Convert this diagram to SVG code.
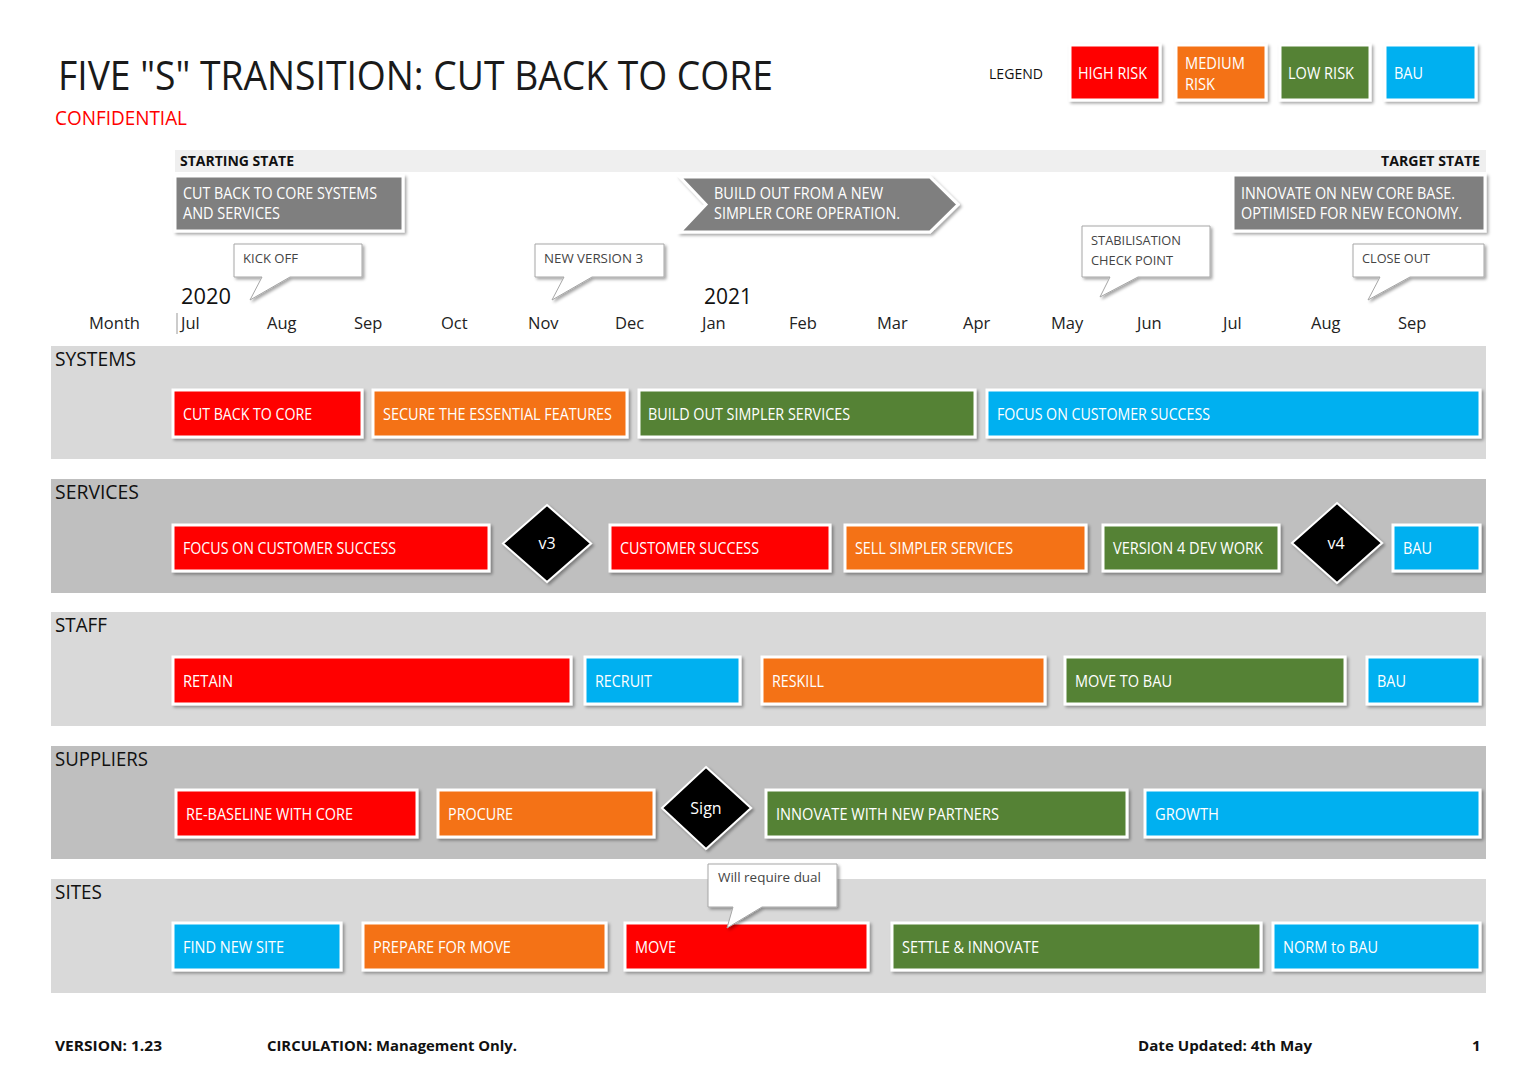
<svg xmlns="http://www.w3.org/2000/svg" width="1536" height="1069" viewBox="0 0 1536 1069">
<defs>
<filter id="sh" x="-10%" y="-20%" width="130%" height="150%">
<feDropShadow dx="2" dy="2" stdDeviation="1.5" flood-color="#000" flood-opacity="0.35"/>
</filter>
<style>
text{font-family:"Open Sans","Noto Sans","Liberation Sans",sans-serif}
.bar{stroke:#fff;stroke-width:3;filter:url(#sh)}
.r{fill:#ff0000}.o{fill:#f47216}.g{fill:#548235}.b{fill:#00b0f0}.p{fill:#7f7f7f}
.bt{fill:#fff;font-size:16px}
.lane1{fill:#d9d9d9}.lane2{fill:#bfbfbf}
.ll{fill:#111;font-size:20px}
.mo{fill:#222;font-size:16.5px}
.yr{fill:#111;font-size:22px}
.co{fill:#fff;stroke:#a6a6a6;stroke-width:1;filter:url(#sh)}
.ct{fill:#444;font-size:13px}
.dia{fill:#000;stroke:#fff;stroke-width:2;filter:url(#sh)}
.dt{fill:#fff;font-size:16px;text-anchor:middle}
.hd{fill:#111;font-size:14px;font-weight:bold}
.ft{fill:#111;font-size:15px;font-weight:bold}
</style>
</defs>
<rect width="1536" height="1069" fill="#fff"/>

<g id="title">
<text x="58" y="90" font-size="40" fill="#1a1a1a" textLength="715" lengthAdjust="spacingAndGlyphs">FIVE "S" TRANSITION: CUT BACK TO CORE</text>
<text x="55" y="125" font-size="20" fill="#ff0000" textLength="132" lengthAdjust="spacingAndGlyphs">CONFIDENTIAL</text>
</g>

<g id="legend">
<text x="989" y="79" font-size="15" fill="#111" textLength="54" lengthAdjust="spacingAndGlyphs">LEGEND</text>
<rect class="bar r" x="1070" y="45" width="90" height="55"/>
<text class="bt" x="1078" y="79" textLength="69" lengthAdjust="spacingAndGlyphs">HIGH RISK</text>
<rect class="bar o" x="1176" y="45" width="90" height="55"/>
<text class="bt" x="1185" y="69" textLength="60" lengthAdjust="spacingAndGlyphs">MEDIUM</text>
<text class="bt" x="1185" y="90" textLength="30" lengthAdjust="spacingAndGlyphs">RISK</text>
<rect class="bar g" x="1280" y="45" width="90" height="55"/>
<text class="bt" x="1288" y="79" textLength="66" lengthAdjust="spacingAndGlyphs">LOW RISK</text>
<rect class="bar b" x="1385" y="45" width="91" height="55"/>
<text class="bt" x="1394" y="79" textLength="29" lengthAdjust="spacingAndGlyphs">BAU</text>
</g>

<g id="header">
<rect x="175" y="150" width="1311" height="22" fill="#efefef"/>
<text class="hd" x="180" y="166" textLength="114" lengthAdjust="spacingAndGlyphs">STARTING STATE</text>
<text class="hd" x="1381" y="166" textLength="99" lengthAdjust="spacingAndGlyphs">TARGET STATE</text>
</g>

<g id="phase-start">
<rect class="bar p" x="175" y="176" width="228" height="55"/>
<text class="bt" x="183" y="199" textLength="194" lengthAdjust="spacingAndGlyphs">CUT BACK TO CORE SYSTEMS</text>
<text class="bt" x="183" y="219" textLength="97" lengthAdjust="spacingAndGlyphs">AND SERVICES</text>
</g>
<g id="phase-build">
<polygon class="bar p" points="680,177 930,177 958,204.5 930,232 680,232 706,204.5"/>
<text class="bt" x="714" y="199" textLength="169" lengthAdjust="spacingAndGlyphs">BUILD OUT FROM A NEW</text>
<text class="bt" x="714" y="219" textLength="186" lengthAdjust="spacingAndGlyphs">SIMPLER CORE OPERATION.</text>
</g>
<g id="phase-target">
<rect class="bar p" x="1233" y="175" width="252" height="56"/>
<text class="bt" x="1241" y="199" textLength="214" lengthAdjust="spacingAndGlyphs">INNOVATE ON NEW CORE BASE.</text>
<text class="bt" x="1241" y="219" textLength="221" lengthAdjust="spacingAndGlyphs">OPTIMISED FOR NEW ECONOMY.</text>
</g>

<g id="callout-kickoff">
<path class="co" d="M234,244 H362 V277 H290 L250,300 L262,277 H234 Z"/>
<text class="ct" x="243" y="263" textLength="55" lengthAdjust="spacingAndGlyphs">KICK OFF</text>
</g>
<g id="callout-v3">
<path class="co" d="M535,244 H664 V277 H592 L552,300 L564,277 H535 Z"/>
<text class="ct" x="544" y="263" textLength="99" lengthAdjust="spacingAndGlyphs">NEW VERSION 3</text>
</g>
<g id="callout-stab">
<path class="co" d="M1082,226 H1210 V277 H1138 L1100,297 L1110,277 H1082 Z"/>
<text class="ct" x="1091" y="245" textLength="90" lengthAdjust="spacingAndGlyphs">STABILISATION</text>
<text class="ct" x="1091" y="265" textLength="82" lengthAdjust="spacingAndGlyphs">CHECK POINT</text>
</g>
<g id="callout-close">
<path class="co" d="M1353,244 H1484 V277 H1410 L1368,300 L1380,277 H1353 Z"/>
<text class="ct" x="1362" y="263" textLength="68" lengthAdjust="spacingAndGlyphs">CLOSE OUT</text>
</g>

<g id="timeline">
<text class="yr" x="181" y="304" textLength="50" lengthAdjust="spacingAndGlyphs">2020</text>
<text class="yr" x="704" y="304" textLength="48" lengthAdjust="spacingAndGlyphs">2021</text>
<line x1="177" y1="313" x2="177" y2="334" stroke="#999" stroke-width="1"/>
<text class="mo" x="89" y="329">Month</text>
<text class="mo" x="181" y="329">Jul</text>
<text class="mo" x="267" y="329">Aug</text>
<text class="mo" x="354" y="329">Sep</text>
<text class="mo" x="441" y="329">Oct</text>
<text class="mo" x="528" y="329">Nov</text>
<text class="mo" x="615" y="329">Dec</text>
<text class="mo" x="702" y="329">Jan</text>
<text class="mo" x="789" y="329">Feb</text>
<text class="mo" x="877" y="329">Mar</text>
<text class="mo" x="963" y="329">Apr</text>
<text class="mo" x="1051" y="329">May</text>
<text class="mo" x="1137" y="329">Jun</text>
<text class="mo" x="1223" y="329">Jul</text>
<text class="mo" x="1311" y="329">Aug</text>
<text class="mo" x="1398" y="329">Sep</text>
</g>

<g id="lane-systems">
<rect class="lane1" x="51" y="346" width="1435" height="113"/>
<text class="ll" x="55" y="366" textLength="81" lengthAdjust="spacingAndGlyphs">SYSTEMS</text>
<rect class="bar r" x="173" y="390" width="189" height="47"/>
<text class="bt" x="183" y="420" textLength="129" lengthAdjust="spacingAndGlyphs">CUT BACK TO CORE</text>
<rect class="bar o" x="373" y="390" width="254" height="47"/>
<text class="bt" x="383" y="420" textLength="229" lengthAdjust="spacingAndGlyphs">SECURE THE ESSENTIAL FEATURES</text>
<rect class="bar g" x="639" y="390" width="336" height="47"/>
<text class="bt" x="648" y="420" textLength="202" lengthAdjust="spacingAndGlyphs">BUILD OUT SIMPLER SERVICES</text>
<rect class="bar b" x="987" y="390" width="493" height="47"/>
<text class="bt" x="997" y="420" textLength="213" lengthAdjust="spacingAndGlyphs">FOCUS ON CUSTOMER SUCCESS</text>
</g>

<g id="lane-services">
<rect class="lane2" x="51" y="479" width="1435" height="114"/>
<text class="ll" x="55" y="499" textLength="84" lengthAdjust="spacingAndGlyphs">SERVICES</text>
<rect class="bar r" x="173" y="525" width="316" height="46"/>
<text class="bt" x="183" y="554" textLength="213" lengthAdjust="spacingAndGlyphs">FOCUS ON CUSTOMER SUCCESS</text>
<polygon class="dia" points="547,505 591,543.5 547,582 503,543.5"/>
<text class="dt" x="547" y="549">v3</text>
<rect class="bar r" x="610" y="525" width="220" height="46"/>
<text class="bt" x="620" y="554" textLength="139" lengthAdjust="spacingAndGlyphs">CUSTOMER SUCCESS</text>
<rect class="bar o" x="845" y="525" width="241" height="46"/>
<text class="bt" x="855" y="554" textLength="158" lengthAdjust="spacingAndGlyphs">SELL SIMPLER SERVICES</text>
<rect class="bar g" x="1103" y="525" width="176" height="46"/>
<text class="bt" x="1113" y="554" textLength="150" lengthAdjust="spacingAndGlyphs">VERSION 4 DEV WORK</text>
<polygon class="dia" points="1337,503 1382,543 1337,583 1292,543"/>
<text class="dt" x="1336" y="549">v4</text>
<rect class="bar b" x="1393" y="525" width="87" height="46"/>
<text class="bt" x="1403" y="554" textLength="29" lengthAdjust="spacingAndGlyphs">BAU</text>
</g>

<g id="lane-staff">
<rect class="lane1" x="51" y="612" width="1435" height="114"/>
<text class="ll" x="55" y="632" textLength="52" lengthAdjust="spacingAndGlyphs">STAFF</text>
<rect class="bar r" x="173" y="657" width="398" height="47"/>
<text class="bt" x="183" y="687" textLength="50" lengthAdjust="spacingAndGlyphs">RETAIN</text>
<rect class="bar b" x="585" y="657" width="155" height="47"/>
<text class="bt" x="595" y="687" textLength="57" lengthAdjust="spacingAndGlyphs">RECRUIT</text>
<rect class="bar o" x="762" y="657" width="283" height="47"/>
<text class="bt" x="772" y="687" textLength="52" lengthAdjust="spacingAndGlyphs">RESKILL</text>
<rect class="bar g" x="1065" y="657" width="280" height="47"/>
<text class="bt" x="1075" y="687" textLength="97" lengthAdjust="spacingAndGlyphs">MOVE TO BAU</text>
<rect class="bar b" x="1367" y="657" width="113" height="47"/>
<text class="bt" x="1377" y="687" textLength="29" lengthAdjust="spacingAndGlyphs">BAU</text>
</g>

<g id="lane-suppliers">
<rect class="lane2" x="51" y="746" width="1435" height="113"/>
<text class="ll" x="55" y="766" textLength="93" lengthAdjust="spacingAndGlyphs">SUPPLIERS</text>
<rect class="bar r" x="176" y="790" width="241" height="47"/>
<text class="bt" x="186" y="820" textLength="167" lengthAdjust="spacingAndGlyphs">RE-BASELINE WITH CORE</text>
<rect class="bar o" x="438" y="790" width="216" height="47"/>
<text class="bt" x="448" y="820" textLength="65" lengthAdjust="spacingAndGlyphs">PROCURE</text>
<polygon class="dia" points="706,767 751,808 706,849 662,808"/>
<text class="dt" x="706" y="814">Sign</text>
<rect class="bar g" x="766" y="790" width="361" height="47"/>
<text class="bt" x="776" y="820" textLength="223" lengthAdjust="spacingAndGlyphs">INNOVATE WITH NEW PARTNERS</text>
<rect class="bar b" x="1145" y="790" width="335" height="47"/>
<text class="bt" x="1155" y="820" textLength="64" lengthAdjust="spacingAndGlyphs">GROWTH</text>
</g>

<g id="lane-sites">
<rect class="lane1" x="51" y="879" width="1435" height="114"/>
<text class="ll" x="55" y="899" textLength="47" lengthAdjust="spacingAndGlyphs">SITES</text>
<rect class="bar b" x="173" y="923" width="168" height="47"/>
<text class="bt" x="183" y="953" textLength="101" lengthAdjust="spacingAndGlyphs">FIND NEW SITE</text>
<rect class="bar o" x="363" y="923" width="243" height="47"/>
<text class="bt" x="373" y="953" textLength="138" lengthAdjust="spacingAndGlyphs">PREPARE FOR MOVE</text>
<rect class="bar r" x="625" y="923" width="243" height="47"/>
<text class="bt" x="635" y="953" textLength="41" lengthAdjust="spacingAndGlyphs">MOVE</text>
<rect class="bar g" x="892" y="923" width="369" height="47"/>
<text class="bt" x="902" y="953" textLength="137" lengthAdjust="spacingAndGlyphs">SETTLE &amp; INNOVATE</text>
<rect class="bar b" x="1273" y="923" width="207" height="47"/>
<text class="bt" x="1283" y="953" textLength="95" lengthAdjust="spacingAndGlyphs">NORM to BAU</text>
</g>

<g id="callout-dual">
<path class="co" d="M708,864 H837 V907 H762 L727,928 L733,907 H708 Z"/>
<text class="ct" x="718" y="882" textLength="103" lengthAdjust="spacingAndGlyphs">Will require dual</text>
</g>

<g id="connectors"></g>

<g id="footer">
<text class="ft" x="55" y="1051" textLength="107" lengthAdjust="spacingAndGlyphs">VERSION: 1.23</text>
<text class="ft" x="267" y="1051" textLength="250" lengthAdjust="spacingAndGlyphs">CIRCULATION: Management Only.</text>
<text class="ft" x="1138" y="1051" textLength="174" lengthAdjust="spacingAndGlyphs">Date Updated: 4th May</text>
<text class="ft" x="1472" y="1051">1</text>
</g>
</svg>
